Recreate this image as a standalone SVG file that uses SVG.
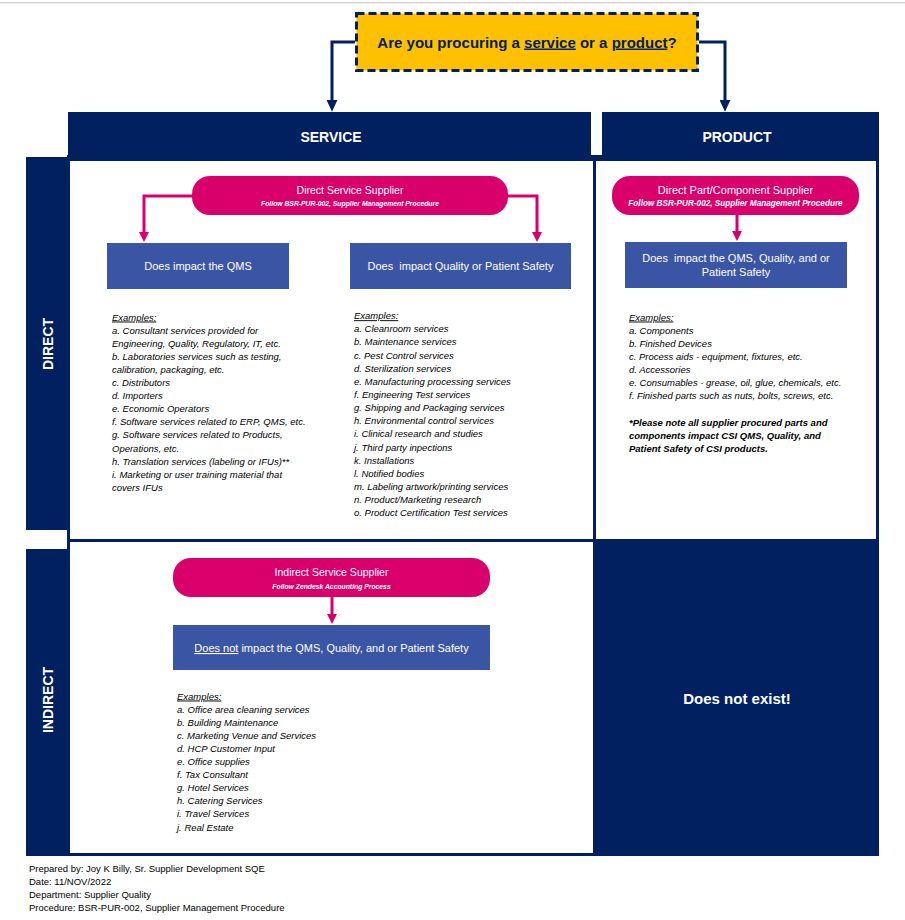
<svg xmlns="http://www.w3.org/2000/svg" width="905" height="920" viewBox="0 0 905 920">
<defs>
<style>
text{font-family:"Liberation Sans",Arial,sans-serif}
.navy{fill:#002060}
.pill{fill:#D9006C}
.box{fill:#3B55A5}
.hdr{fill:#fff;font-weight:bold;font-size:14px;text-anchor:middle}
.pt1{fill:#fff;font-size:10.5px;text-anchor:middle}
.pt2{fill:#fff;font-size:6.8px;font-weight:bold;font-style:italic;text-anchor:middle}
.bt{fill:#fff;font-size:11px;text-anchor:middle;white-space:pre}
.ex{fill:#000;font-size:9.5px;font-style:italic}
.note{fill:#000;font-size:9.5px;font-style:italic;font-weight:bold}
.ft{fill:#000;font-size:9.5px}
.cn{fill:none;stroke:#002060;stroke-width:3}
.cp{fill:none;stroke:#D9006C;stroke-width:3}
</style>
<marker id="an" viewBox="0 0 10 10" refX="1" refY="5" markerWidth="12" markerHeight="11" markerUnits="userSpaceOnUse" orient="auto" preserveAspectRatio="none"><path d="M0,0 L10,5 L0,10 z" fill="#002060"/></marker>
<marker id="ap" viewBox="0 0 10 10" refX="1" refY="5" markerWidth="10" markerHeight="10" markerUnits="userSpaceOnUse" orient="auto" preserveAspectRatio="none"><path d="M0,0 L10,5 L0,10 z" fill="#D9006C"/></marker>
</defs>
<rect x="0" y="0" width="905" height="920" fill="#fff"/>
<rect x="0" y="2" width="905" height="1.5" fill="#d4d4d4"/>

<!-- grid frame -->
<g id="grid">
<rect class="navy" x="67" y="155" width="812" height="701"/>
<rect fill="#fff" x="70" y="161" width="523" height="378"/>
<rect fill="#fff" x="596" y="161" width="280" height="378"/>
<rect fill="#fff" x="70" y="542" width="523" height="311"/>
</g>

<g id="question">
<rect x="356.5" y="13.5" width="341" height="57" fill="#FFC000" stroke="#002060" stroke-width="3" stroke-dasharray="8,4"/>
<text x="527" y="47.5" text-anchor="middle" font-size="15" font-weight="bold" fill="#002060">Are you procuring a <tspan text-decoration="underline">service</tspan> or a <tspan text-decoration="underline">product</tspan>?</text>
</g>

<g id="service-header">
<rect class="navy" x="68" y="112" width="523" height="49"/>
<text class="hdr" x="331" y="142">SERVICE</text>
</g>
<g id="product-header">
<rect class="navy" x="602" y="112" width="277" height="49"/>
<rect class="navy" x="591" y="155" width="11" height="6"/>
<text class="hdr" x="737" y="142">PRODUCT</text>
</g>
<g id="direct-label">
<rect class="navy" x="26" y="157" width="44" height="373"/>
<text class="hdr" transform="translate(53,344) rotate(-90)">DIRECT</text>
</g>
<g id="indirect-label">
<rect class="navy" x="26" y="549" width="44" height="307"/>
<text class="hdr" transform="translate(53,700) rotate(-90)">INDIRECT</text>
</g>

<g id="connectors">
<path class="cn" d="M355,42 H332 V101" marker-end="url(#an)"/>
<path class="cn" d="M699,42 H725 V101" marker-end="url(#an)"/>
<path class="cp" d="M193,196 H144 V233" marker-end="url(#ap)"/>
<path class="cp" d="M507,196 H537 V233" marker-end="url(#ap)"/>
<path class="cp" d="M737,214 V232" marker-end="url(#ap)"/>
<path class="cp" d="M332,596 V615" marker-end="url(#ap)"/>
</g>

<g id="direct-service-supplier">
<rect class="pill" x="192" y="176" width="316" height="39" rx="18"/>
<text class="pt1" x="350" y="193.5">Direct Service Supplier</text>
<text class="pt2" x="350" y="205.5">Follow BSR-PUR-002, Supplier Management Procedure</text>
</g>
<g id="impact-qms">
<rect class="box" x="107" y="243" width="182" height="46"/>
<text class="bt" x="198" y="270">Does impact the QMS</text>
</g>
<g id="impact-quality">
<rect class="box" x="350" y="243" width="221" height="46"/>
<text class="bt" x="460.5" y="270">Does  impact Quality or Patient Safety</text>
</g>
<g id="examples-qms">
<text class="ex" x="112" y="320.5">
<tspan x="112" text-decoration="underline">Examples:</tspan>
<tspan x="112" dy="13.1">a. Consultant services provided for</tspan>
<tspan x="112" dy="13.1">Engineering, Quality, Regulatory, IT, etc.</tspan>
<tspan x="112" dy="13.1">b. Laboratories services such as testing,</tspan>
<tspan x="112" dy="13.1">calibration, packaging, etc.</tspan>
<tspan x="112" dy="13.1">c. Distributors</tspan>
<tspan x="112" dy="13.1">d. Importers</tspan>
<tspan x="112" dy="13.1">e. Economic Operators</tspan>
<tspan x="112" dy="13.1">f. Software services related to ERP, QMS, etc.</tspan>
<tspan x="112" dy="13.1">g. Software services related to Products,</tspan>
<tspan x="112" dy="13.1">Operations, etc.</tspan>
<tspan x="112" dy="13.1">h. Translation services (labeling or IFUs)**</tspan>
<tspan x="112" dy="13.1">i. Marketing or user training material that</tspan>
<tspan x="112" dy="13.1">covers IFUs</tspan>
</text>
</g>
<g id="examples-quality">
<text class="ex" x="354" y="319.2">
<tspan x="354" text-decoration="underline">Examples:</tspan>
<tspan x="354" dy="13.14">a. Cleanroom services</tspan>
<tspan x="354" dy="13.14">b. Maintenance services</tspan>
<tspan x="354" dy="13.14">c. Pest Control services</tspan>
<tspan x="354" dy="13.14">d. Sterilization services</tspan>
<tspan x="354" dy="13.14">e. Manufacturing processing services</tspan>
<tspan x="354" dy="13.14">f. Engineering Test services</tspan>
<tspan x="354" dy="13.14">g. Shipping and Packaging services</tspan>
<tspan x="354" dy="13.14">h. Environmental control services</tspan>
<tspan x="354" dy="13.14">i. Clinical research and studies</tspan>
<tspan x="354" dy="13.14">j. Third party inpections</tspan>
<tspan x="354" dy="13.14">k. Installations</tspan>
<tspan x="354" dy="13.14">l. Notified bodies</tspan>
<tspan x="354" dy="13.14">m. Labeling artwork/printing services</tspan>
<tspan x="354" dy="13.14">n. Product/Marketing research</tspan>
<tspan x="354" dy="13.14">o. Product Certification Test services</tspan>
</text>
</g>

<g id="direct-part-supplier">
<rect class="pill" x="612" y="176" width="247" height="39" rx="18"/>
<text class="pt1" x="735.5" y="194" style="font-size:11px">Direct Part/Component Supplier</text>
<text class="pt2" x="735.5" y="206" style="font-size:8.2px">Follow BSR-PUR-002, Supplier Management Procedure</text>
</g>
<g id="impact-all">
<rect class="box" x="625" y="242" width="222" height="46"/>
<text class="bt" x="736" y="262">Does  impact the QMS, Quality, and or</text>
<text class="bt" x="736" y="276">Patient Safety</text>
</g>
<g id="examples-product">
<text class="ex" x="629" y="320.5">
<tspan x="629" text-decoration="underline">Examples:</tspan>
<tspan x="629" dy="13">a. Components</tspan>
<tspan x="629" dy="13">b. Finished Devices</tspan>
<tspan x="629" dy="13">c. Process aids - equipment, fixtures, etc.</tspan>
<tspan x="629" dy="13">d. Accessories</tspan>
<tspan x="629" dy="13">e. Consumables - grease, oil, glue, chemicals, etc.</tspan>
<tspan x="629" dy="13">f. Finished parts such as nuts, bolts, screws, etc.</tspan>
</text>
<text class="note" x="629" y="425.5">
<tspan x="629">*Please note all supplier procured parts and</tspan>
<tspan x="629" dy="13">components impact CSI QMS, Quality, and</tspan>
<tspan x="629" dy="13">Patient Safety of CSI products.</tspan>
</text>
</g>

<g id="indirect-service-supplier">
<rect class="pill" x="173" y="558" width="317" height="39" rx="18"/>
<text class="pt1" x="331.5" y="576">Indirect Service Supplier</text>
<text class="pt2" x="331.5" y="588.5">Follow Zendesk Accounting Process</text>
</g>
<g id="no-impact">
<rect class="box" x="173" y="625" width="317" height="45"/>
<text class="bt" x="331.5" y="652"><tspan text-decoration="underline">Does not</tspan> impact the QMS, Quality, and or Patient Safety</text>
</g>
<g id="examples-indirect">
<text class="ex" x="177" y="699.5">
<tspan x="177" text-decoration="underline">Examples:</tspan>
<tspan x="177" dy="13.1">a. Office area cleaning services</tspan>
<tspan x="177" dy="13.1">b. Building Maintenance</tspan>
<tspan x="177" dy="13.1">c. Marketing Venue and Services</tspan>
<tspan x="177" dy="13.1">d. HCP Customer Input</tspan>
<tspan x="177" dy="13.1">e. Office supplies</tspan>
<tspan x="177" dy="13.1">f. Tax Consultant</tspan>
<tspan x="177" dy="13.1">g. Hotel Services</tspan>
<tspan x="177" dy="13.1">h. Catering Services</tspan>
<tspan x="177" dy="13.1">i. Travel Services</tspan>
<tspan x="177" dy="13.1">j. Real Estate</tspan>
</text>
</g>

<g id="does-not-exist">
<text x="737" y="703.5" text-anchor="middle" font-size="15" font-weight="bold" fill="#fff">Does not exist!</text>
</g>

<g id="footer">
<text class="ft" x="29" y="871.5">
<tspan x="29">Prepared by: Joy K Billy, Sr. Supplier Development SQE</tspan>
<tspan x="29" dy="13">Date: 11/NOV/2022</tspan>
<tspan x="29" dy="13">Department: Supplier Quality</tspan>
<tspan x="29" dy="13">Procedure: BSR-PUR-002, Supplier Management Procedure</tspan>
</text>
</g>
</svg>
